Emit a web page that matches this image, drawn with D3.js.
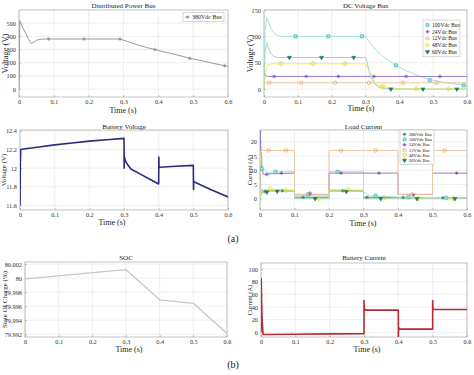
<!DOCTYPE html>
<html lang="en">
<head>
<meta charset="UTF-8">
<title>Bus voltages and currents</title>
<script src="https://d3js.org/d3.v7.min.js"></script>
<style>
  body { margin: 0; background: #fff; }
  svg { display: block; font-family: "Liberation Serif", "DejaVu Serif", serif; }
  .grid line { stroke: #e4e4e4; stroke-width: 0.6; }
  .frame { fill: none; stroke: #9a9a9a; stroke-width: 0.6; }
  .tick-label { font-size: 6.3px; fill: #333; font-family: "Liberation Serif", serif; }
  .title { font-size: 7px; fill: #222; }
  .xlab { font-size: 8px; fill: #222; }
</style>
</head>
<body>
<div id="chart"></div>
<script>
const timeTicks = [0, 0.1, 0.2, 0.3, 0.4, 0.5, 0.6];

// Distributed power bus (380 V)
const busT = [0, 0.0008, 0.002, 0.005, 0.01, 0.02, 0.03, 0.035, 0.04, 0.05, 0.06, 0.08, 0.29, 0.31, 0.34, 0.37, 0.39, 0.42, 0.45, 0.49, 0.52, 0.55, 0.59, 0.6];
const busV = [0, 60, 520, 505, 470, 420, 365, 345, 352, 370, 378, 380, 380, 362, 336, 313, 300, 280, 262, 233, 218, 200, 177, 172];
const busMarkT = [0.085, 0.187, 0.29, 0.39, 0.49, 0.59];
const busMarkV = [380, 380, 380, 300, 233, 177];
const busTicks = [0, 100, 200, 300, 400, 500];

// DC voltage buses
const dc100T = [0, 0.003, 0.008, 0.012, 0.02, 0.03, 0.04, 0.05, 0.07, 0.3, 0.31, 0.33, 0.35, 0.37, 0.39, 0.42, 0.45, 0.49, 0.53, 0.56, 0.6];
const dc100V = [0, 110, 135, 130, 115, 106, 102, 100, 100, 100, 90, 75, 63, 53, 45, 35, 27, 18, 13, 10, 7];
const dc100MarkT = [0.093, 0.19, 0.29, 0.39, 0.49, 0.59];
const dc100MarkV = [100, 100, 100, 45, 17, 7];
const dc60T = [0, 0.003, 0.008, 0.012, 0.02, 0.03, 0.04, 0.3, 0.305, 0.31, 0.32, 0.33, 0.34, 0.36, 0.38, 0.6];
const dc60V = [0, 70, 88, 80, 68, 62, 60, 60, 52, 35, 18, 8, 3, 1, 0, 0];
const dc60MarkT = [0.075, 0.17, 0.265, 0.375, 0.47, 0.57];
const dc60MarkV = [60, 60, 60, 0, 0, 0];
const dc48T = [0, 0.003, 0.01, 0.02, 0.3, 0.31, 0.32, 0.33, 0.35, 0.38, 0.42, 0.6];
const dc48V = [0, 30, 45, 48, 48, 35, 20, 10, 5, 2, 0, 0];
const dc48MarkT = [0.05, 0.145, 0.24, 0.35, 0.45, 0.545];
const dc48MarkV = [48, 48, 48, 5, 0, 0];
const dc24T = [0, 0.002, 0.005, 0.01, 0.6];
const dc24V = [0, 30, 25, 24, 24];
const dc24MarkT = [0.03, 0.125, 0.22, 0.325, 0.42, 0.52];
const dc24MarkV = [24, 24, 24, 24, 24, 24];
const dc12T = [0, 0.002, 0.005, 0.6];
const dc12V = [0, 15, 12, 12];
const dc12MarkT = [0.015, 0.11, 0.21, 0.31, 0.41, 0.51];
const dc12MarkV = [12, 12, 12, 12, 12, 12];
const dcTicks = [0, 50, 100, 150];

// Battery voltage
const batVT = [0, 0.001, 0.002, 0.01, 0.05, 0.1, 0.15, 0.2, 0.25, 0.3, 0.3005, 0.301, 0.302, 0.305, 0.31, 0.32, 0.35, 0.38, 0.4, 0.4005, 0.401, 0.403, 0.45, 0.5, 0.5005, 0.501, 0.503, 0.55, 0.6];
const batVV = [11.6, 12.05, 12.2, 12.205, 12.225, 12.25, 12.27, 12.29, 12.305, 12.32, 12.0, 12.13, 12.1, 12.07, 12.04, 11.99, 11.93, 11.87, 11.83, 12.12, 12.0, 12.01, 12.02, 12.03, 11.77, 11.86, 11.85, 11.77, 11.69];
const batVTicks = [11.6, 11.8, 12, 12.2, 12.4];

// Load currents
const ld380T = [0, 0.005, 0.01, 0.02, 0.1, 0.1, 0.2, 0.2, 0.3, 0.3, 0.6];
const ld380V = [0, 3, 2.5, 3, 2.8, 0.5, 0.5, 3, 2.8, 0.5, 0.3];
const ld380MarkT = [0.015, 0.065, 0.125, 0.24, 0.31, 0.415, 0.53];
const ld380MarkV = [2.5, 2.8, 0.5, 2.8, 0.5, 0.4, 0.3];
const ld100T = [0, 0.003, 0.008, 0.02, 0.04, 0.1, 0.1, 0.2, 0.2, 0.3, 0.3, 0.32, 0.4, 0.4, 0.6];
const ld100V = [0, 18, 11, 9, 9.5, 9.5, 1, 1, 9.5, 9.5, 2.5, 1, 0.5, 0.5, 0.3];
const ld100MarkT = [0.005, 0.045, 0.14, 0.225, 0.335, 0.43, 0.54];
const ld100MarkV = [10.5, 9.5, 1.5, 9.5, 1, 0.5, 0.3];
const ld24T = [0, 0.001, 0.003, 0.01, 0.02, 0.1, 0.1, 0.2, 0.2, 0.4, 0.4, 0.5, 0.5, 0.6];
const ld24V = [0, 26, 12, 8.5, 8.7, 9, 1.5, 1.5, 9, 9, 1.5, 1.5, 9, 9];
const ld24MarkT = [0.02, 0.062, 0.145, 0.235, 0.345, 0.445, 0.57];
const ld24MarkV = [8.5, 9, 1.8, 9, 9, 1.3, 9];
const ld12T = [0, 0.002, 0.005, 0.1, 0.1, 0.2, 0.2, 0.4, 0.4, 0.5, 0.5, 0.6];
const ld12V = [0, 17, 17, 17, 1.5, 1.5, 17, 17, 1.5, 1.5, 17, 17];
const ld12MarkT = [0.025, 0.075, 0.145, 0.235, 0.335, 0.44, 0.535];
const ld12MarkV = [17, 17, 1.8, 17, 17, 1.5, 17];
const ld48T = [0, 0.005, 0.02, 0.1, 0.1, 0.2, 0.2, 0.3, 0.3, 0.6];
const ld48V = [0, 3.5, 3, 3, 0, 0, 3, 3, 0, 0];
const ld48MarkT = [0.03, 0.075, 0.17, 0.255, 0.36, 0.46, 0.56];
const ld48MarkV = [3.5, 3, 0, 3.3, 0.3, 0, 0];
const ld60T = [0, 0.005, 0.02, 0.1, 0.1, 0.2, 0.2, 0.3, 0.3, 0.6];
const ld60V = [0, 2, 2.5, 2.5, 0, 0, 2.5, 2.5, 0, 0];
const ld60MarkT = [0.02, 0.05, 0.16, 0.25, 0.35, 0.455, 0.565];
const ld60MarkV = [2.3, 2.6, 0, 2.5, 0, 0, 0];
const loadTicks = [0, 5, 10, 15, 20];

// State of charge
const socT = [0, 0.3, 0.4, 0.5, 0.6];
const socV = [79.9999, 80.0012, 79.9969, 79.9964, 79.9921];
const socTicks = [79.992, 79.994, 79.996, 79.998, 80, 80.002];

// Battery current
const batIT = [0, 0.0005, 0.003, 0.006, 0.01, 0.1, 0.2, 0.3, 0.3, 0.3008, 0.302, 0.31, 0.4, 0.4, 0.4008, 0.402, 0.5, 0.5, 0.5008, 0.502, 0.6];
const batIV = [0, 85, 20, -3, -3.5, -3, -2.5, -2, 50, 38, 35, 35, 35, -9, 8, 5, 5, 50, 38, 36, 36];
const batITicks = [0, 20, 40, 60, 80, 100];

const star = d3.symbolAsterisk || d3.symbolCross;
const pts = (t, v) => t.map((d, i) => [d, v[i]]);

// styles: lineColor / markColor / fill / symbol
const c100 = {lineColor: "#a3e4dd", markColor: "#2fb3ad", fill: "#a3e4dd", sym: d3.symbolSquare};
const c24 = {lineColor: "#9a78c8", markColor: "#6b3d9c", fill: "none", sym: star};
const c12 = {lineColor: "#ecc7a4", markColor: "#e0904a", fill: "none", sym: d3.symbolCircle};
const c48 = {lineColor: "#f4ef4a", markColor: "#e2d81e", fill: "none", sym: d3.symbolCross};
const c60 = {lineColor: "#a8d4bc", markColor: "#1f7a5a", fill: "#1f7a5a", sym: d3.symbolTriangle, flip: true, size: 7};
const c380 = {lineColor: "#4d8b97", markColor: "#2b6373", fill: "none", sym: star};

const mk = (name, t, v, mt, mv, style) => Object.assign({name, data: pts(t, v), marks: pts(mt, mv)}, style);

const panels = [
  {box: [19, 10, 228, 97], y: [-60, 600], yTicks: busTicks, title: "Distributed Power Bus", titleY: 7.5,
   ylab: "Voltage (V)", ylabX: 5, ylabSize: 8.5, xlabX: 123, xlabY: 113,
   series: [mk("380Vdc Bus", busT, busV, busMarkT, busMarkV, {lineColor: "#9a9a9a", markColor: "#808080", fill: "none", sym: star})],
   legend: {x: 183, y: 12.7, w: 41, row: 8, start: 4.3, size: 6}},
  {box: [264, 10, 467, 97], y: [-15, 150], yTicks: dcTicks, title: "DC Voltage Bus", titleY: 7.5,
   ylab: "Voltage (V)", ylabX: 250.5, ylabSize: 8, xlabX: 361, xlabY: 111,
   series: [
     mk("100Vdc Bus", dc100T, dc100V, dc100MarkT, dc100MarkV, c100),
     mk("24Vdc Bus", dc24T, dc24V, dc24MarkT, dc24MarkV, c24),
     mk("12Vdc Bus", dc12T, dc12V, dc12MarkT, dc12MarkV, c12),
     mk("48Vdc Bus", dc48T, dc48V, dc48MarkT, dc48MarkV, c48),
     mk("60Vdc Bus", dc60T, dc60V, dc60MarkT, dc60MarkV, c60)],
   legend: {x: 423, y: 20, w: 37, row: 6.7, start: 5, size: 5.6}},
  {box: [20, 130, 228, 210], y: [11.55, 12.41], yTicks: batVTicks, title: "Battery Voltage", titleY: 128.5,
   ylab: "Voltage (V)", ylabX: 4, ylabSize: 7, xlabX: 112, xlabY: 225,
   series: [{data: pts(batVT, batVV), lineColor: "#2b2b7e", w: 1.6}]},
  {box: [260, 130, 467, 210], y: [-4, 24.2], yTicks: loadTicks, title: "Load Current", titleY: 128.5,
   ylab: "Current (A)", ylabX: 250, ylabSize: 6.5, xlabX: 363, xlabY: 225.5,
   series: [
     mk("380Vdc Bus", ld380T, ld380V, ld380MarkT, ld380MarkV, c380),
     mk("100Vdc Bus", ld100T, ld100V, ld100MarkT, ld100MarkV, c100),
     mk("24Vdc Bus", ld24T, ld24V, ld24MarkT, ld24MarkV, c24),
     mk("12Vdc Bus", ld12T, ld12V, ld12MarkT, ld12MarkV, c12),
     mk("48Vdc Bus", ld48T, ld48V, ld48MarkT, ld48MarkV, c48),
     mk("60Vdc Bus", ld60T, ld60V, ld60MarkT, ld60MarkV, c60)],
   legend: {x: 400, y: 130, w: 34, row: 5.2, start: 4.3, size: 4.6}},
  {box: [25, 262, 227, 337], y: [79.9916, 80.0023], yTicks: socTicks, title: "SOC", titleY: 259.5,
   ylab: "State Of Charge (%)", ylabX: 5, ylabSize: 7, xlabX: 129, xlabY: 352,
   series: [{data: pts(socT, socV), lineColor: "#c6c6c6", w: 1.3}]},
  {box: [261, 263, 467, 337], y: [-7.4, 109.5], yTicks: batITicks, title: "Battery Current", titleY: 259.5,
   ylab: "Current (A)", ylabX: 250, ylabSize: 6.5, xlabX: 367, xlabY: 352,
   series: [{data: pts(batIT, batIV), lineColor: "#bb2a2e", w: 1.6}]}
];

const svg = d3.select("#chart").append("svg").attr("width", 474).attr("height", 375);
const fmt = d3.format("~g");

panels.forEach((p, k) => {
  const [x0, y0, x1, y1] = p.box;
  const x = d3.scaleLinear().domain([0, 0.6]).range([x0, x1]);
  const y = d3.scaleLinear().domain(p.y).range([y1, y0]);

  svg.append("clipPath").attr("id", "clip" + k)
    .append("rect").attr("x", x0).attr("y", y0).attr("width", x1 - x0).attr("height", y1 - y0);

  // grid
  const g = svg.append("g").attr("class", "grid");
  g.selectAll(".gx").data(timeTicks).join("line").attr("class", "gx")
    .attr("x1", d => x(d)).attr("x2", d => x(d)).attr("y1", y0).attr("y2", y1);
  g.selectAll(".gy").data(p.yTicks).join("line").attr("class", "gy")
    .attr("x1", x0).attr("x2", x1).attr("y1", d => y(d)).attr("y2", d => y(d));

  // axes: inward ticks, labels
  const ax = svg.append("g").attr("transform", `translate(0,${y1})`)
    .call(d3.axisBottom(x).tickValues(timeTicks).tickFormat(fmt).tickSizeInner(-2).tickSizeOuter(0).tickPadding(3));
  const ay = svg.append("g").attr("transform", `translate(${x0},0)`)
    .call(d3.axisLeft(y).tickValues(p.yTicks).tickFormat(fmt).tickSizeInner(-2).tickSizeOuter(0).tickPadding(3));
  [ax, ay].forEach(a => {
    a.attr("font-family", null).attr("font-size", null);
    a.select(".domain").remove();
    a.selectAll("line").attr("stroke", "#8a8a8a").attr("stroke-width", 0.5);
    a.selectAll("text").attr("class", "tick-label");
  });
  ay.selectAll("text").attr("x", -3);

  svg.append("rect").attr("class", "frame")
    .attr("x", x0).attr("y", y0).attr("width", x1 - x0).attr("height", y1 - y0);

  // series
  const plot = svg.append("g").attr("clip-path", `url(#clip${k})`);
  const line = d3.line().x(d => x(d[0])).y(d => y(d[1]));
  p.series.forEach(s => {
    plot.append("path").datum(s.data).attr("d", line)
      .attr("fill", "none").attr("stroke", s.lineColor)
      .attr("stroke-width", s.w || 1).attr("stroke-linejoin", "round");
  });
  p.series.forEach(s => {
    if (!s.marks) return;
    const sym = d3.symbol().type(s.sym).size(s.size || 10);
    plot.selectAll(null).data(s.marks).join("path")
      .attr("d", sym)
      .attr("transform", d => `translate(${x(d[0])},${y(d[1])})${s.flip ? " rotate(180)" : ""}`)
      .attr("fill", s.fill).attr("stroke", s.markColor).attr("stroke-width", 0.6);
  });

  // labels
  svg.append("text").attr("class", "title").attr("x", (x0 + x1) / 2).attr("y", p.titleY)
    .attr("text-anchor", "middle").text(p.title);
  svg.append("text").attr("class", "xlab").attr("x", p.xlabX).attr("y", p.xlabY)
    .attr("text-anchor", "middle").text("Time (s)");
  svg.append("text").attr("transform", `translate(${p.ylabX},${(y0 + y1) / 2}) rotate(-90)`)
    .attr("text-anchor", "middle").attr("dy", "0.35em")
    .style("font-size", p.ylabSize + "px").attr("fill", "#222").text(p.ylab);

  // legend
  if (p.legend) {
    const L = p.legend;
    const n = p.series.length;
    const lg = svg.append("g");
    lg.append("rect").attr("x", L.x).attr("y", L.y).attr("width", L.w).attr("height", L.start * 2 + (n - 1) * L.row)
      .attr("fill", "#fff").attr("stroke", "#b0b0b0").attr("stroke-width", 0.5);
    p.series.forEach((s, i) => {
      const cy = L.y + L.start + i * L.row;
      lg.append("line").attr("x1", L.x + 2).attr("x2", L.x + 7).attr("y1", cy).attr("y2", cy)
        .attr("stroke", s.lineColor).attr("stroke-width", 0.6);
      lg.append("path").attr("d", d3.symbol().type(s.sym).size(s.size || 8))
        .attr("transform", `translate(${L.x + 4.5},${cy})${s.flip ? " rotate(180)" : ""}`)
        .attr("fill", s.fill).attr("stroke", s.markColor).attr("stroke-width", 0.6);
      lg.append("text").attr("x", L.x + 9).attr("y", cy).attr("dy", "0.35em")
        .style("font-size", L.size + "px").attr("fill", "#222").text(s.name);
    });
  }
});

svg.append("text").attr("x", 233).attr("y", 242).attr("text-anchor", "middle")
  .style("font-size", "10px").attr("fill", "#222").text("(a)");
svg.append("text").attr("x", 233).attr("y", 368).attr("text-anchor", "middle")
  .style("font-size", "10px").attr("fill", "#222").text("(b)");
</script>
</body>
</html>
